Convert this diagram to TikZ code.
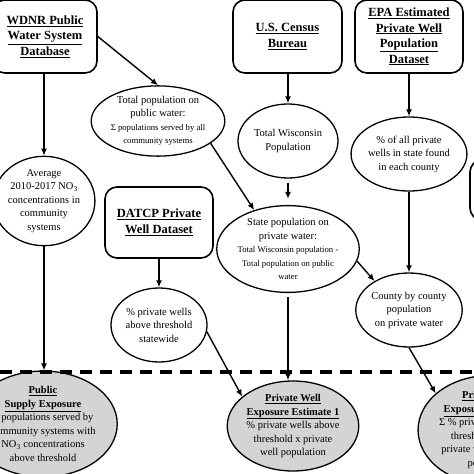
\documentclass[tikz,border=0pt]{standalone}
\usepackage{fontspec}
\setmainfont{Liberation Serif}
\usetikzlibrary{arrows.meta,shapes.geometric}
\newcommand{\smf}{\fontsize{8.7}{11}\selectfont}

\begin{document}
\begin{tikzpicture}[
        x=1pt, y=-1pt,
        font=\fontsize{10.5}{13.5}\selectfont,
        src/.style={draw, line width=1.6pt, rounded corners=12pt, align=center,
        font=\fontsize{12.5}{15.5}\selectfont\bfseries, inner sep=0pt},
        calc/.style={draw, ellipse, line width=1.3pt, align=center, inner sep=0pt},
        expo/.style={calc, fill=black!17},
        ar/.style={-{Latex[length=7pt,width=6pt]}, line width=1.4pt}
    ]
    \useasboundingbox (0,0) rectangle (474,474);
    \fill[white] (0,0) rectangle (474,474);
    \clip (0,0) rectangle (474,474);

% Data sources
    \node[src, minimum width=104, minimum height=73] (wdnr)   at (45,36.5)   {\underline{WDNR Public}\\\underline{Water System}\\\underline{Database}};
    \node[src, minimum width=109, minimum height=73] (census) at (287.5,36.5) {\underline{U.S. Census}\\\underline{Bureau}};
    \node[src, minimum width=108, minimum height=73] (epa)    at (409,36.5)  {\underline{EPA Estimated}\\\underline{Private Well}\\\underline{Population}\\\underline{Dataset}};
    \node[src, minimum width=108, minimum height=71] (datcp)  at (159,222.5) {\underline{DATCP Private}\\\underline{Well Dataset}};
    \node[src, minimum width=110, minimum height=60] (extbox) at (525,190)   {};

% Intermediate quantities
    \node[calc, minimum width=124, minimum height=70] (pubwater) at (158,121) {Total population on\\public water:\\\smf Σ populations served by all\\\smf community systems};
    \node[calc, minimum width=100, minimum height=74] (wipop)    at (288,141) {Total Wisconsin\\Population};
    \node[calc, minimum width=96,  minimum height=74] (pctall)   at (409,154) {\% of all private\\wells in state found\\in each county};
    \node[calc, minimum width=92,  minimum height=74] (avg)      at (44,201)  {Average\\2010-2017 NO\textsubscript{3}\\concentrations in\\community\\systems};
    \node[calc, minimum width=116, minimum height=64] (statepop) at (288,249) {State population on\\private water:\\\smf Total Wisconsin population -\\\smf Total population on public\\\smf water};
    \node[calc, minimum width=96,  minimum height=74] (pctwells) at (159,325) {\% private wells\\above threshold\\statewide};
    \node[calc, minimum width=94,  minimum height=74] (county)   at (409,310) {County by county\\population\\on private water};

% Exposure estimates
    \node[expo, minimum width=130, minimum height=84] (pubexp) at (43,424)  {\textbf{\underline{Public}}\\\textbf{\underline{Supply Exposure}}\\Σ populations served by\\community systems with\\NO\textsubscript{3} concentrations\\above threshold};
    \node[expo, minimum width=124, minimum height=90] (pwexp1) at (293,426) {\textbf{\underline{Private Well}}\\\textbf{\underline{Exposure Estimate 1}}\\\% private wells above\\threshold x private\\well population};
    \node[expo, minimum width=124, minimum height=92] (pwexp2) at (490,430) {\textbf{\underline{Private Well}}\\\textbf{\underline{Exposure Estimate 2}}\\Σ \% private wells above\\threshold x county\\private well population\\per county};

% Divider
    \coordinate (dashL) at (0,372);
    \coordinate (dashR) at (474,372);
    \draw[line width=3.5pt, dash pattern=on 12pt off 8pt] (dashL) -- (dashR);

    \draw[ar] (wdnr.east) -- (pubwater.north);
    \draw[ar] (avg.north |- wdnr.south) -- (avg.north);
    \draw[ar] (wipop.north |- census.south) -- (wipop.north);
    \draw[ar] (epa.south) -- (pctall.north);
    \draw[ar] (pubwater.-23) -- (statepop.131);
    \draw[ar, shorten <=4pt, shorten >=6pt] (wipop.south) -- (statepop.north);
    \draw[ar] (pctall.south) -- (county.north);
    \draw[ar] (statepop.-10) -- (county.140);
    \draw[ar, shorten <=4pt] (statepop.south) -- (statepop.south |- pwexp1.north);
    \draw[ar] (datcp.south) -- (pctwells.north);
    \draw[ar] (pctwells.-8) -- (pwexp1.150);
    \draw[ar] (avg.south) -- (avg.south |- pubexp.north);
    \draw[ar] (county.south) -- (pwexp2.146);
\end{tikzpicture}
\end{document}
